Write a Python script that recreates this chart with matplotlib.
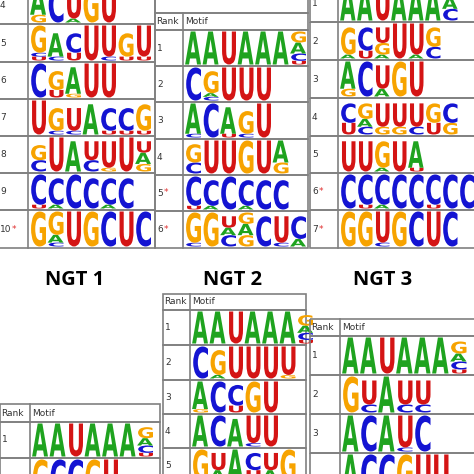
import matplotlib
matplotlib.use("Agg")
import matplotlib.pyplot as plt
from matplotlib.textpath import TextPath
from matplotlib.font_manager import FontProperties
from matplotlib.patches import PathPatch, Rectangle
from matplotlib.path import Path
import numpy as np

# ---- data: columns written bottom-up as letter + height (tenths of cell) ----
top1_ranks = ["4", "5", "6", "7", "8", "9", "10"]
top1_motifs = [
    ["G2A7", "C9", "A1U8", "G9", "U9"],
    ["U1C1G7", "C1A6", "U2C5", "U9", "C1U8", "U1G6", "U1U8"],
    ["C9", "U2G5", "G1A7", "U9", "U9"],
    ["U9", "C1G6", "C1U6", "A8", "U1C6", "U1C6", "U1G7"],
    ["C3G4", "U9", "A8", "C3U5", "G1U7", "U9", "G2A3U3"],
    ["U1C8", "A1C7", "C9", "C8", "A1C7", "C8"],
    ["G9", "C1A2G6", "U9", "G9", "C9", "U9", "C9"],
]
top1_star = [False, False, False, False, False, False, True]

top2_ranks = ["1", "2", "3", "4", "5", "6"]
top2_motifs = [
    ["A9", "A9", "U9", "A9", "A9", "A9", "U1C2A3G3"],
    ["C9", "C1A1G6", "U9", "U9", "U9"],
    ["C1A8", "C9", "U1A7", "C1G6", "U9"],
    ["C3G5", "U9", "U9", "G9", "U9", "G3A6"],
    ["U1C8", "A1C7", "C9", "A1C7", "C8", "C8"],
    ["C1G8", "G9", "C3A2U3", "G3A3G3", "C8", "C1U7", "A2C6"],
]
top2_star = [False, False, False, False, True, True]

top3_ranks = ["1", "2", "3", "4", "5", "6", "7"]
top3_motifs = [
    ["A9", "A9", "U9", "A9", "A9", "A9", "C3A3"],
    ["A1G7", "U2C6", "A1G3U4", "U9", "A1U8", "C3G5"],
    ["G2A7", "C9", "A2U6", "G9", "U9"],
    ["U3C5", "C2A2G4", "G2U6", "G2U6", "C2U6", "U3G5", "G3C5"],
    ["U8", "U8", "A1G7", "U8", "U1A7"],
    ["C9", "U1C8", "A1C8", "C9", "C9", "U1C8", "C9", "C9"],
    ["G9", "G9", "C1U8", "G9", "C9", "U9", "C9"],
]
top3_star = [False, False, False, False, False, True, True]

titles = ["NGT 1", "NGT 2", "NGT 3"]

bot1_ranks = ["1", "2"]
bot1_motifs = [
    ["A9", "A9", "U9", "A9", "A9", "A9", "U1C2A2G3"],
    ["G9", "C9", "C9", "G9", "U9"],
]
bot2_ranks = ["1", "2", "3", "4", "5"]
bot2_motifs = [
    ["A9", "A9", "U9", "A9", "A9", "A9", "U1C2A2G3"],
    ["C9", "A1G7", "U9", "U9", "U9", "G1U8"],
    ["G1A8", "C9", "U2C6", "G9", "U9"],
    ["A9", "C9", "A8", "C1U8", "U9"],
    ["G9", "A3U5", "A9", "U3C5", "A3U5", "G9"],
]
bot3_ranks = ["1", "2", "3", "4"]
bot3_motifs = [
    ["A9", "A9", "U9", "A9", "A9", "A9", "U1C2A2G3"],
    ["G9", "C2U6", "A9", "C2U6", "C2U6"],
    ["A9", "C9", "A9", "C1U8", "C9"],
    ["A9", "C9", "C9", "G9", "U9", "U9"],
]

COLORS = {"A": "#1fa31f", "C": "#1414d2", "G": "#f7a300", "U": "#d41414"}
FP = FontProperties(family="DejaVu Sans", weight="bold")
_cache = {}

def glyph(letter):
    if letter not in _cache:
        tp = TextPath((0, 0), letter, size=1, prop=FP)
        v = tp.vertices
        _cache[letter] = (v.copy(), tp.codes, v[:, 0].min(), v[:, 0].max(), v[:, 1].min(), v[:, 1].max())
    return _cache[letter]

def draw_letter(ax, letter, x0, w, ybot, h):
    v, codes, bx0, bx1, by0, by1 = glyph(letter)
    nv = np.empty_like(v)
    nv[:, 0] = x0 + (v[:, 0] - bx0) / (bx1 - bx0) * w
    nv[:, 1] = ybot - (v[:, 1] - by0) / (by1 - by0) * h
    ax.add_patch(PathPatch(Path(nv, codes), fc=COLORS[letter], ec="none", clip_on=True))

def draw_logo(ax, motif, x0, ytop, ybot, colw=17.5):
    h_cell = ybot - ytop - 3
    for i, col in enumerate(motif):
        y = ybot - 1.5
        for k in range(0, len(col), 2):
            L, hh = col[k], int(col[k + 1]) / 9.0 * h_cell
            draw_letter(ax, L, x0 + 2 + i * colw, colw - 1.5, y, hh)
            y -= hh

def draw_table(ax, x0, xr, x1, row_edges, ranks, motifs, stars=None, header=None, colw=17.5):
    lc = "#808080"
    if header is not None:
        ht, hb = header
        ax.add_patch(Rectangle((x0, ht), x1 - x0, hb - ht, fill=False, ec=lc, lw=1.2))
        ax.plot([xr, xr], [ht, hb], color=lc, lw=1.2)
        ax.text(x0 + 1.5, (ht + hb) / 2, "Rank", fontsize=6.5, va="center", color="#333")
        ax.text(xr + 2, (ht + hb) / 2, "Motif", fontsize=6.5, va="center", color="#333")
    for i, r in enumerate(ranks):
        t, b = row_edges[i], row_edges[i + 1]
        ax.add_patch(Rectangle((x0, t), x1 - x0, b - t, fill=False, ec=lc, lw=1.2))
        ax.plot([xr, xr], [t, b], color=lc, lw=1.2)
        yc = (t + b) / 2
        if yc < 466:
            ax.text(x0 + 2, yc, r, fontsize=6.5, va="center", color="#333")
            if stars is not None and stars[i]:
                ax.text(x0 + 4 + 5 * len(r), yc, "*", fontsize=6.5, va="center", color="#e03030")
        draw_logo(ax, motifs[i], xr, t, b, colw)

fig = plt.figure(figsize=(4.74, 4.74), dpi=100)
ax = fig.add_axes([0, 0, 1, 1])
ax.set_xlim(0, 474)
ax.set_ylim(474, 0)
ax.axis("off")

draw_table(ax, -2, 28, 155, [-14, 24, 62, 99, 136, 173, 210, 248], top1_ranks, top1_motifs, top1_star)
ax.add_patch(Rectangle((155, -5), 153, 18, fill=False, ec="#808080", lw=1.2))
draw_table(ax, 155, 183, 308, [30, 66, 102, 139, 175, 211, 248], top2_ranks, top2_motifs, top2_star, header=(13, 30))
draw_table(ax, 310, 338, 476, [-16, 22, 60, 98, 136, 173, 210, 248], top3_ranks, top3_motifs, top3_star, colw=17)

for t, x in zip(titles, [75, 233, 383]):
    ax.text(x, 280, t, fontsize=14.5, fontweight="bold", ha="center", va="center", family="Open Sans")

draw_table(ax, 0, 30, 160, [422, 458, 494], bot1_ranks, bot1_motifs, header=(404, 422))
draw_table(ax, 163, 190, 306, [310, 345, 380, 414, 448, 482], bot2_ranks, bot2_motifs, header=(294, 310))
draw_table(ax, 310, 340, 476, [336, 375, 414, 453, 492], bot3_ranks, bot3_motifs, header=(319, 336), colw=18)

fig.savefig("out.png", dpi=100)
